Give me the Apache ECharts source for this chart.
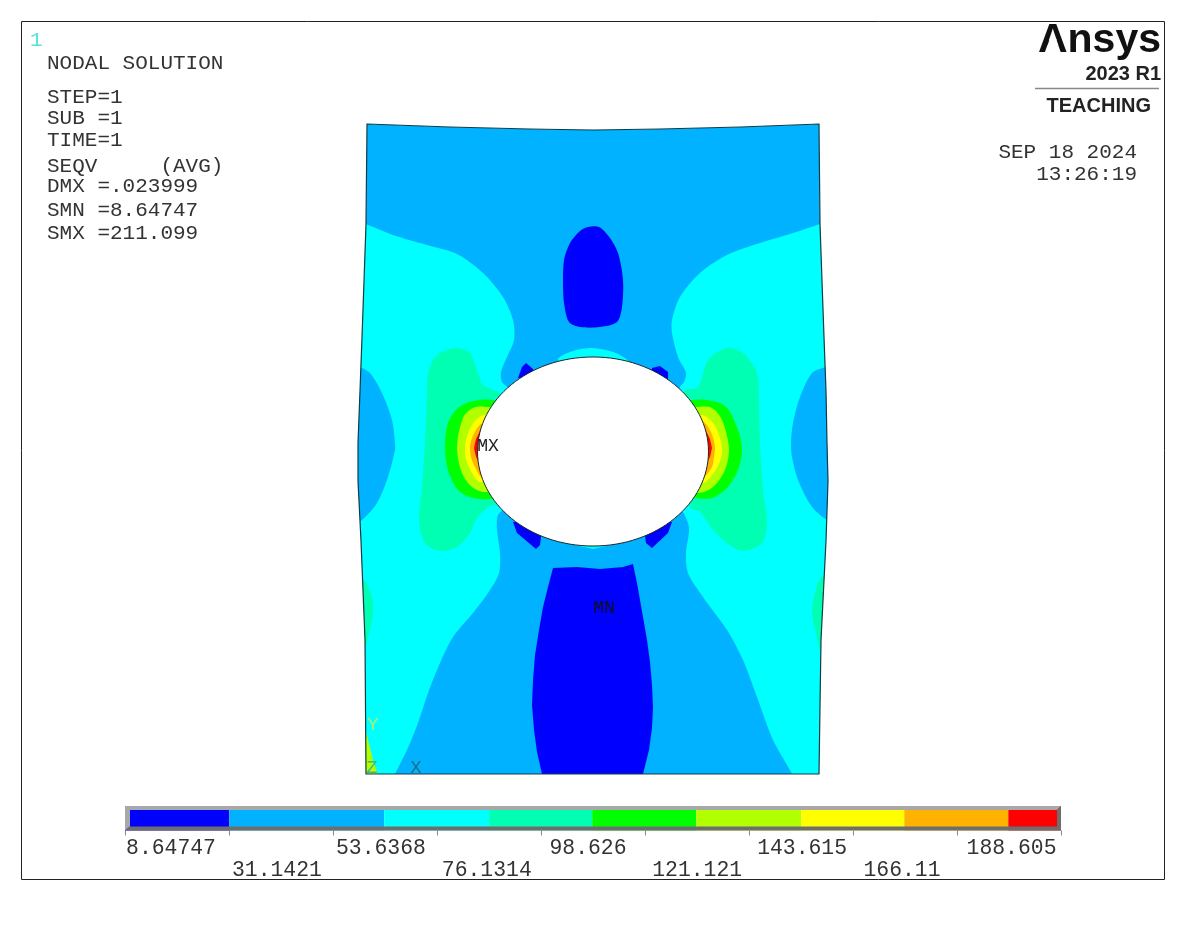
<!DOCTYPE html>
<html>
<head>
<meta charset="utf-8">
<style>
  html, body { margin: 0; padding: 0; background: #fff; }
  #main { width: 1200px; height: 927px; }
</style>
<script src="https://cdn.jsdelivr.net/npm/echarts@6/dist/echarts.min.js"></script>
</head>
<body>
<div id="main"></div>
<script>
// contour levels of SEQV
var levelColors = ['#0000ff', '#00b2ff', '#00ffff', '#00ffb2', '#00ff00', '#b2ff00', '#ffff00', '#ffb200', '#ff0000']
var legendBreaks = [8.64747, 31.2, 64.7, 87.4, 109.7, 132.2, 154.9, 177.2, 199.7, 211.099]
var tickValues = [8.64747, 31.1421, 53.6368, 76.1314, 98.626, 121.121, 143.615, 166.11, 188.605, 211.099]
var tickLabels = ['8.64747', '31.1421', '53.6368', '76.1314', '98.626', '121.121', '143.615', '166.11', '188.605']
// where each legend label is centred along the bar
var labelAnchors = [18.6, 41.5, 64.0, 86.9, 108.8, 132.4, 155.1, 176.7, 200.4]

var headerLines = ['NODAL SOLUTION', 'STEP=1', 'SUB =1', 'TIME=1', 'SEQV     (AVG)', 'DMX =.023999', 'SMN =8.64747', 'SMX =211.099']
var dateLines = ['SEP 18 2024', '13:26:19']

// plate geometry, origin at the hole centre, y up
var holeCenter = [0, -0.5]
var holeRadii = [115.5, 94.5]
var plateOutline = [[-226, 327], [-143, 324], [-63, 322], [0, 321], [67, 322], [147, 324], [226, 327], [227, 227], [229, 170], [231, 114], [233, 60], [234, 8], [235, -30], [233, -90], [228, -189], [226, -323], [-227, -323], [-228, -189], [-232, -90], [-235, -30], [-235, 8], [-233, 60], [-231, 114], [-229, 170], [-227, 227]]

// contour bands, drawn in this order over each other
var cyanLeft = [[-250, 235], [-227, 227], [-200, 216], [-166, 206], [-136, 197], [-110, 178], [-90, 154], [-80, 131], [-79, 111], [-86, 94], [-92, 79], [-91, 69], [-85, 63], [-63, 1], [-85, -54], [-95, -64], [-96, -79], [-93, -102], [-94, -122], [-103, -139], [-120, -162], [-140, -186], [-153, -212], [-165, -242], [-175, -272], [-186, -299], [-198, -323], [-208, -345], [-260, -345]]
var cyanRight = [[250, 235], [227, 227], [200, 218], [167, 208], [134, 196], [107, 178], [87, 154], [79, 131], [79, 118], [85, 94], [93, 78], [91, 69], [87, 64], [67, 1], [80, -50], [90, -61], [96, -77], [93, -102], [95, -122], [110, -146], [134, -179], [150, -209], [164, -246], [180, -289], [199, -323], [208, -345], [260, -345]]
var sideLeft = [[-255, 95], [-233, 84], [-223, 78], [-211, 58], [-201, 31], [-198, 8], [-198, 1], [-205, -26], [-216, -52], [-231, -69], [-255, -85]]
var sideRight = [[255, 95], [232, 84], [219, 78], [207, 54], [200, 28], [198, 8], [199, -6], [205, -29], [219, -56], [234, -69], [255, -80]]
var tealLeft = [[-165, 78], [-156, 96], [-136, 103], [-123, 98], [-115, 78], [-110, 66], [-95, 59], [-80, 45], [-63, 1], [-80, -50], [-100, -54], [-106, -57], [-116, -67], [-123, -82], [-136, -96], [-153, -100], [-168, -92], [-174, -69], [-171, -36], [-168, 8], [-166, 58]]
var tealRight = [[90, 59], [105, 64], [115, 91], [134, 103], [150, 98], [164, 78], [166, 41], [167, 8], [170, -39], [174, -72], [169, -92], [150, -100], [134, -92], [120, -79], [107, -61], [97, -56], [75, 0]]
var tealEdgeLeft = [[-250, -129], [-230, -129], [-221, -146], [-220, -162], [-225, -186], [-228, -196], [-250, -196]]
var tealEdgeRight = [[250, -126], [229, -126], [221, -146], [219, -162], [224, -186], [228, -199], [250, -199]]
var limeCorner = [[-227, -281], [-220, -309], [-215, -324], [-215, -345], [-250, -345], [-250, -281]]
var capTop = [[-35, 91], [-23, 99], [-3, 103], [17, 100], [27, 96], [35, 89], [0, 70]]
var capBottom = [[-23, -93], [0, -98], [22, -93], [0, -80]]
var ovalTop = [[-5, 224], [-13, 220], [-23, 208], [-29, 191], [-30, 168], [-29, 148], [-24, 129], [-13, 124], [7, 124], [24, 129], [29, 144], [30, 171], [25, 198], [17, 213], [6, 224]]
var columnBottom = [[-40, -117], [-16, -116], [7, -118], [30, -116], [40, -113], [44, -132], [47, -149], [50, -166], [54, -189], [57, -211], [59, -234], [60, -256], [59, -277], [56, -299], [50, -323], [45, -345], [-55, -345], [-51, -323], [-56, -301], [-59, -279], [-61, -254], [-60, -229], [-58, -204], [-54, -179], [-50, -156], [-45, -136]]
var notchTL = [[-75, 73], [-71, 84], [-67, 88], [-60, 82], [-53, 66]]
var notchTR = [[59, 83], [67, 85], [75, 79], [75, 71], [57, 66]]
var notchBL = [[-80, -71], [-76, -82], [-57, -98], [-53, -94], [-50, -70]]
var notchBR = [[79, -71], [75, -82], [59, -97], [53, -92], [50, -70]]
var greenLeft = [[-100, 51], [-120, 50], [-135, 43], [-145, 28], [-148, 4], [-145, -19], [-135, -39], [-120, -47], [-101, -48], [-70, -40], [-70, 40]]
var greenRight = [[99, 51], [120, 50], [134, 43], [145, 21], [149, 1], [145, -19], [134, -37], [119, -47], [102, -47], [70, -40], [70, 40]]
var limeLeft = [[-105, 44], [-120, 43], [-130, 33], [-136, 4], [-131, -22], [-121, -36], [-108, -41], [-80, -35], [-80, 35]]
var limeRight = [[104, 44], [119, 43], [129, 31], [136, 3], [132, -19], [120, -36], [105, -42], [80, -35], [80, 35]]
var yellowLeft = [[-108, 36], [-118, 30], [-125, 18], [-128, 4], [-127, -8], [-122, -20], [-113, -31], [-90, -25], [-90, 30]]
var yellowRight = [[109, 36], [120, 28], [126, 16], [129, 3], [128, -7], [122, -20], [110, -32], [90, -25], [90, 30]]
var orangeLeft = [[-110, 28], [-117, 21], [-122, 10], [-123, 3], [-122, -6], [-118, -16], [-111, -26], [-95, -20], [-95, 24]]
var orangeRight = [[110, 29], [117, 21], [121, 10], [122, 3], [121, -6], [119, -16], [110, -26], [95, -20], [95, 24]]
var redLeft = [[-112, 22], [-117, 12], [-119, 3], [-117, -6], [-112, -15], [-100, 3]]
var redRight = [[112, 22], [117, 12], [119, 3], [117, -6], [112, -15], [100, 3]]

// [outline, level index, smooth]
var regions = [
  [plateOutline, 1, 0],
  [cyanLeft, 2, 0.3], [cyanRight, 2, 0.3],
  [sideLeft, 1, 0.3], [sideRight, 1, 0.3],
  [tealEdgeLeft, 3, 0.3], [tealEdgeRight, 3, 0.3],
  [limeCorner, 5, 0],
  [tealLeft, 3, 0.3], [tealRight, 3, 0.3],
  [capTop, 2, 0.3], [capBottom, 2, 0],
  [ovalTop, 0, 0.3], [columnBottom, 0, 0],
  [notchTL, 0, 0], [notchTR, 0, 0], [notchBL, 0, 0], [notchBR, 0, 0],
  [greenLeft, 4, 0.3], [greenRight, 4, 0.3],
  [limeLeft, 5, 0.3], [limeRight, 5, 0.3],
  [yellowLeft, 6, 0.3], [yellowRight, 6, 0.3],
  [orangeLeft, 7, 0.3], [orangeRight, 7, 0.3],
  [redLeft, 8, 0], [redRight, 8, 0]
]

var monoFont = '21px "Liberation Mono", monospace'
var headerY = [63, 97, 118, 140, 166, 186, 210, 233]

function toPixels(api, outline) {
  return outline.map(function (p) { return api.coord(p) })
}

function renderRegion(params, api) {
  var region = regions[api.value(0)]
  return {
    type: 'polygon',
    shape: { points: toPixels(api, region[0]), smooth: region[2] },
    style: { fill: levelColors[region[1]] },
    clipPath: { type: 'polygon', shape: { points: toPixels(api, plateOutline) } }
  }
}

function renderPlateEdges(params, api) {
  var c = api.coord(holeCenter)
  var r = api.size(holeRadii)
  return {
    type: 'group',
    children: [
      { type: 'ellipse', shape: { cx: c[0], cy: c[1], rx: r[0], ry: r[1] }, style: { fill: '#fff', stroke: '#1a2a2a', lineWidth: 1 } },
      { type: 'polygon', shape: { points: toPixels(api, plateOutline) }, style: { fill: 'none', stroke: '#123c44', lineWidth: 1.2 } }
    ]
  }
}

function renderBand(params, api) {
  var i = api.value(0)
  var a = api.coord([legendBreaks[i], 1])
  var b = api.coord([legendBreaks[i + 1], 0])
  return {
    type: 'rect',
    shape: { x: a[0], y: a[1], width: b[0] - a[0], height: b[1] - a[1] },
    style: { fill: levelColors[i] }
  }
}

// bevelled grey frame round the colour bar
function renderBarFrame(params, api) {
  var a = api.coord([tickValues[0], 1])
  var b = api.coord([tickValues[9], 0])
  var l = 5, t = 4, rr = 4, bb = 4
  return {
    type: 'group',
    children: [
      { type: 'polygon', shape: { points: [[a[0], a[1]], [b[0], a[1]], [b[0] - rr, a[1] + t], [a[0] + l, a[1] + t], [a[0] + l, b[1] - bb], [a[0], b[1]]] }, style: { fill: '#a8a8a8' } },
      { type: 'polygon', shape: { points: [[b[0], a[1]], [b[0], b[1]], [a[0], b[1]], [a[0] + l, b[1] - bb], [b[0] - rr, b[1] - bb], [b[0] - rr, a[1] + t]] }, style: { fill: '#6e6e6e' } }
    ]
  }
}

function textEl(text, x, y, font, fill, align) {
  return {
    type: 'text',
    z: 50,
    style: { text: text, x: x, y: y, font: font, fill: fill, align: align || 'left', verticalAlign: 'middle' }
  }
}

var graphics = [
  { type: 'rect', z: 40, shape: { x: 21.5, y: 21.5, width: 1143, height: 858 }, style: { fill: 'none', stroke: '#222', lineWidth: 1 } },
  textEl('1', 30, 40, monoFont, '#4fe3e3'),
  textEl('Ansys', 1161, 41, 'bold 41px "Liberation Sans", sans-serif', '#111', 'right'),
  // the logo's A has no crossbar
  { type: 'polygon', z: 51, shape: { points: [[1050, 38.4], [1056, 38.4], [1058.4, 44.9], [1047.6, 44.9]] }, style: { fill: '#fff' } },
  textEl('2023 R1', 1161, 74, 'bold 20px "Liberation Sans", sans-serif', '#222', 'right'),
  { type: 'line', z: 50, shape: { x1: 1035, y1: 88.5, x2: 1159, y2: 88.5 }, style: { stroke: '#888', lineWidth: 1.5 } },
  textEl('TEACHING', 1151, 106, 'bold 20px "Liberation Sans", sans-serif', '#222', 'right'),
  textEl(dateLines[0], 1137, 152, monoFont, '#333', 'right'),
  textEl(dateLines[1], 1137, 174, monoFont, '#333', 'right'),
  textEl('MX', 488, 446, '18px "Liberation Mono", monospace', '#222', 'center'),
  textEl('MN', 604, 608, '18px "Liberation Mono", monospace', '#111', 'center'),
  textEl('Y', 373, 725, '19px "Liberation Mono", monospace', '#a8f070', 'center'),
  textEl('Z', 372, 768, '19px "Liberation Mono", monospace', '#3ab890', 'center'),
  textEl('X', 416, 768, '19px "Liberation Mono", monospace', '#1d6f80', 'center')
]
headerLines.forEach(function (line, i) {
  graphics.push(textEl(line, 47, headerY[i], monoFont, '#333'))
})

function legendLabel(value) {
  var best = 0
  labelAnchors.forEach(function (v, i) {
    if (Math.abs(v - value) < Math.abs(labelAnchors[best] - value)) best = i
  })
  return (best % 2 ? '\n' : '') + tickLabels[best]
}

var option = {
  backgroundColor: '#fff',
  animation: false,
  graphic: graphics,
  grid: [
    { left: 0, top: 0, width: 1200, height: 927 },
    { left: 125, top: 806, width: 936, height: 24.5 }
  ],
  xAxis: [
    { type: 'value', gridIndex: 0, min: -593, max: 607, show: false },
    {
      type: 'value',
      gridIndex: 1,
      min: 8.64747,
      max: 211.099,
      splitLine: { show: false },
      axisLine: { show: false },
      axisTick: { show: true, customValues: tickValues, length: 5, lineStyle: { color: '#8a8a8a' } },
      axisLabel: {
        customValues: labelAnchors,
        showMinLabel: true,
        showMaxLabel: true,
        hideOverlap: false,
        margin: 7,
        fontFamily: '"Liberation Mono", monospace',
        fontSize: 21.4,
        lineHeight: 22,
        color: '#333',
        align: 'center',
        verticalAlign: 'top',
        formatter: legendLabel
      }
    }
  ],
  yAxis: [
    { type: 'value', gridIndex: 0, min: -476, max: 451, show: false },
    { type: 'value', gridIndex: 1, min: 0, max: 1, show: false }
  ],
  series: [
    { type: 'custom', xAxisIndex: 0, yAxisIndex: 0, silent: true, clip: false, renderItem: renderRegion, data: regions.map(function (r, i) { return [i] }) },
    { type: 'custom', xAxisIndex: 0, yAxisIndex: 0, silent: true, clip: false, renderItem: renderPlateEdges, data: [[0]] },
    { type: 'custom', xAxisIndex: 1, yAxisIndex: 1, silent: true, clip: false, renderItem: renderBand, data: levelColors.map(function (c, i) { return [i] }) },
    { type: 'custom', xAxisIndex: 1, yAxisIndex: 1, silent: true, clip: false, renderItem: renderBarFrame, data: [[0]] }
  ]
}

var chart = echarts.init(document.getElementById('main'), null, { renderer: 'canvas' })
chart.setOption(option)
</script>
</body>
</html>
